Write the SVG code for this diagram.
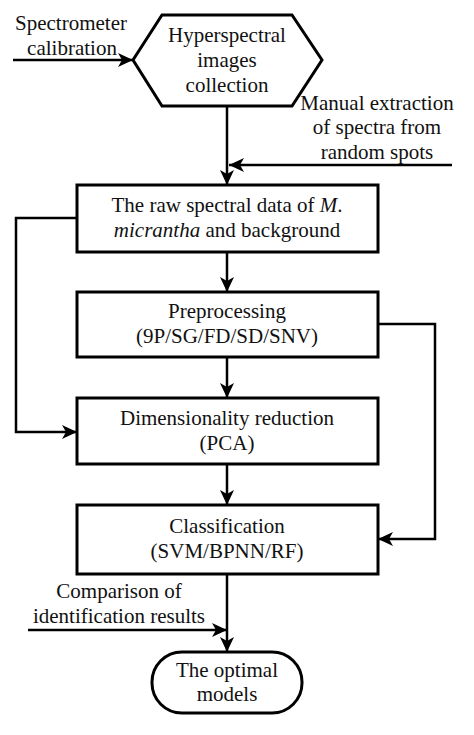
<svg xmlns="http://www.w3.org/2000/svg" width="474" height="735" viewBox="0 0 474 735">
<style>
.n{fill:#fff;stroke:#000;stroke-width:3}
.t{font-family:"Liberation Serif","Times New Roman",serif;font-size:21px;fill:#111;text-anchor:middle}
.c{fill:none;stroke:#000;stroke-width:2.5}
</style>
<defs>
<marker id="a" markerUnits="userSpaceOnUse" markerWidth="16" markerHeight="14" refX="15" refY="7" orient="auto">
<path d="M0,0 L15,7 L0,14 L4,7 z" fill="#000"/>
</marker>
</defs>
<rect width="474" height="735" fill="#fff"/>
<g id="connectors">
<line class="c" x1="13" y1="60" x2="133" y2="60" marker-end="url(#a)"/>
<line class="c" x1="227" y1="106" x2="227" y2="185" marker-end="url(#a)"/>
<line class="c" x1="452" y1="165" x2="229" y2="165" marker-end="url(#a)"/>
<line class="c" x1="227" y1="252" x2="227" y2="292" marker-end="url(#a)"/>
<line class="c" x1="227" y1="357" x2="227" y2="398" marker-end="url(#a)"/>
<polyline class="c" points="77,218 16,218 16,432 77,432" marker-end="url(#a)"/>
<polyline class="c" points="378,324 435,324 435,539 378,539" marker-end="url(#a)"/>
<line class="c" x1="227" y1="464" x2="227" y2="505" marker-end="url(#a)"/>
<line class="c" x1="227" y1="574" x2="227" y2="652" marker-end="url(#a)"/>
<line class="c" x1="28" y1="630" x2="227" y2="630" marker-end="url(#a)"/>
</g>
<g id="hyperspectral">
<polygon class="n" points="162,15 292,15 322,60 292,106 162,106 133,60"/>
<text class="t" x="227" y="42">Hyperspectral</text>
<text class="t" x="227" y="67">images</text>
<text class="t" x="227" y="92">collection</text>
</g>
<g id="label-calibration">
<text class="t" x="71" y="30">Spectrometer</text>
<text class="t" x="72" y="55">calibration</text>
</g>
<g id="label-manual">
<text class="t" x="377" y="110">Manual extraction</text>
<text class="t" x="377" y="134">of spectra from</text>
<text class="t" x="377" y="159">random spots</text>
</g>
<g id="raw">
<rect class="n" x="77" y="185" width="301" height="67"/>
<text class="t" x="227" y="212">The raw spectral data of <tspan font-style="italic">M</tspan>.</text>
<text class="t" x="227" y="237"><tspan font-style="italic">micrantha</tspan> and background</text>
</g>
<g id="preprocessing">
<rect class="n" x="77" y="292" width="301" height="65"/>
<text class="t" x="227" y="318">Preprocessing</text>
<text class="t" x="227" y="343">(9P/SG/FD/SD/SNV)</text>
</g>
<g id="dimred">
<rect class="n" x="77" y="398" width="301" height="66"/>
<text class="t" x="227" y="425">Dimensionality reduction</text>
<text class="t" x="227" y="450">(PCA)</text>
</g>
<g id="classification">
<rect class="n" x="77" y="505" width="301" height="69"/>
<text class="t" x="227" y="533">Classification</text>
<text class="t" x="227" y="558">(SVM/BPNN/RF)</text>
</g>
<g id="label-comparison">
<text class="t" x="119" y="598">Comparison of</text>
<text class="t" x="119" y="623">identification results</text>
</g>
<g id="optimal">
<rect class="n" x="152" y="652" width="150" height="61" rx="30" ry="30"/>
<text class="t" x="227" y="677">The optimal</text>
<text class="t" x="227" y="701">models</text>
</g>
</svg>
